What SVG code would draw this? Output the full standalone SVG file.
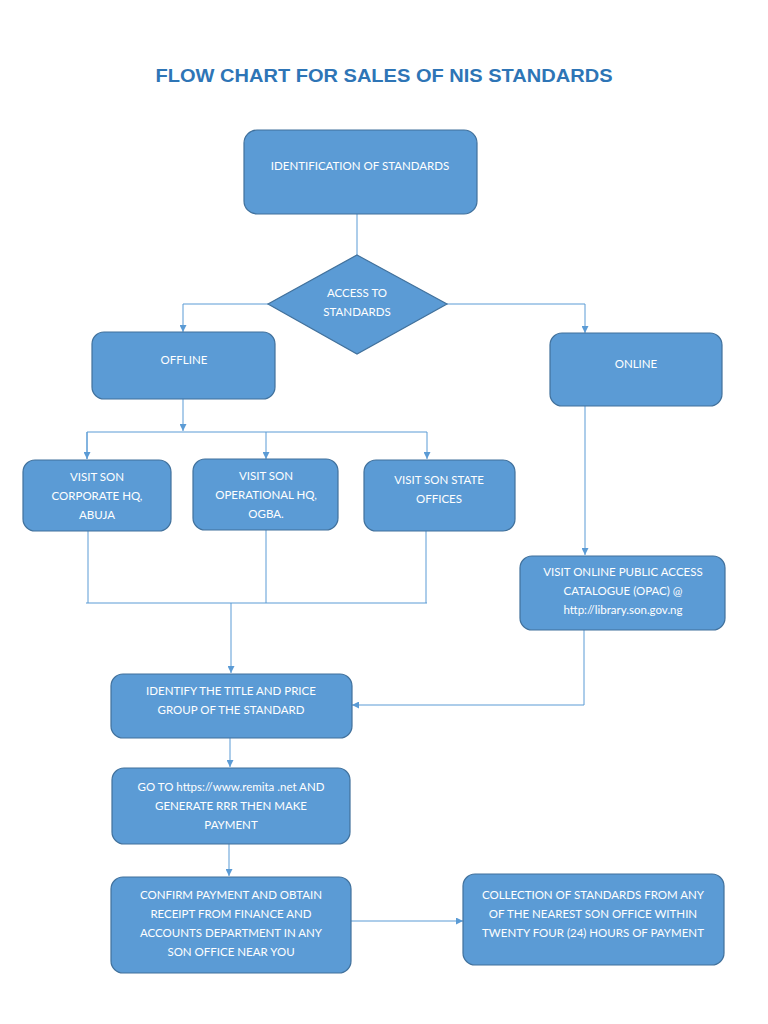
<svg xmlns="http://www.w3.org/2000/svg" width="768" height="1024" viewBox="0 0 768 1024">
<defs>
<marker id="arr" viewBox="0 0 10 10" refX="10" refY="5" markerWidth="7" markerHeight="7" markerUnits="userSpaceOnUse" orient="auto">
<path d="M0,0 L10,5 L0,10 z" fill="#5B9BD5"/>
</marker>
<style>
.box{fill:#5B9BD5;stroke:#41719C;stroke-width:1.2}
.t{font-family:Lato,"Open Sans",sans-serif;font-size:11.5px;fill:#FFFFFF;text-anchor:middle}
.c{fill:none;stroke:#5B9BD5;stroke-width:1}
.title{font-family:"Liberation Sans",Arial,sans-serif;font-weight:bold;font-size:18px;fill:#2E75B6;text-anchor:middle}
</style>
</defs>
<rect width="768" height="1024" fill="#FFFFFF"/>
<text class="title" x="384" y="82" textLength="457" lengthAdjust="spacingAndGlyphs">FLOW CHART FOR SALES OF NIS STANDARDS</text>

<g id="connectors">
<path class="c" d="M357,214 V255"/>
<path class="c" d="M268,304 H183 V332" marker-end="url(#arr)"/>
<path class="c" d="M447,304 H585 V333" marker-end="url(#arr)"/>
<path class="c" d="M183,399 V431" marker-end="url(#arr)"/>
<path class="c" d="M87,459 V432 H427 V459" marker-end="url(#arr)"/>
<path class="c" d="M87,432 V459" marker-end="url(#arr)"/>
<path class="c" d="M266,432 V459" marker-end="url(#arr)"/>
<path class="c" d="M88,531 V603 M266,530 V603 M426,531 V603 M86,603 H427"/>
<path class="c" d="M231,603 V673" marker-end="url(#arr)"/>
<path class="c" d="M585,406 V555" marker-end="url(#arr)"/>
<path class="c" d="M584,630 V705 H352" marker-end="url(#arr)"/>
<path class="c" d="M230,738 V767" marker-end="url(#arr)"/>
<path class="c" d="M229,844 V876" marker-end="url(#arr)"/>
<path class="c" d="M351,921 H463" marker-end="url(#arr)"/>
</g>

<g id="identification">
<rect class="box" x="244" y="130" width="233" height="84" rx="13"/>
<text class="t" x="360" y="170">IDENTIFICATION OF STANDARDS</text>
</g>
<g id="access">
<polygon class="box" points="357,255 447,304 357,354 268,304"/>
<text class="t" x="357" y="297">ACCESS TO</text>
<text class="t" x="357" y="316">STANDARDS</text>
</g>
<g id="offline">
<rect class="box" x="92" y="332" width="183" height="67" rx="12"/>
<text class="t" x="184" y="364">OFFLINE</text>
</g>
<g id="online">
<rect class="box" x="550" y="333" width="172" height="73" rx="12"/>
<text class="t" x="636" y="368">ONLINE</text>
</g>
<g id="corporate">
<rect class="box" x="23" y="460" width="148" height="71" rx="12"/>
<text class="t" x="97" y="481">VISIT SON</text>
<text class="t" x="97" y="500">CORPORATE HQ,</text>
<text class="t" x="97" y="519">ABUJA</text>
</g>
<g id="operational">
<rect class="box" x="193" y="459" width="145" height="71" rx="12"/>
<text class="t" x="266" y="480">VISIT SON</text>
<text class="t" x="266" y="499">OPERATIONAL HQ,</text>
<text class="t" x="266" y="518">OGBA.</text>
</g>
<g id="state">
<rect class="box" x="364" y="460" width="151" height="71" rx="12"/>
<text class="t" x="439" y="484">VISIT SON STATE</text>
<text class="t" x="439" y="503">OFFICES</text>
</g>
<g id="opac">
<rect class="box" x="520" y="556" width="205" height="74" rx="12"/>
<text class="t" x="623" y="576">VISIT ONLINE PUBLIC ACCESS</text>
<text class="t" x="623" y="595">CATALOGUE (OPAC) @</text>
<text class="t" x="623" y="614">http://library.son.gov.ng</text>
</g>
<g id="identify">
<rect class="box" x="111" y="674" width="241" height="64" rx="12"/>
<text class="t" x="231" y="695">IDENTIFY THE TITLE AND PRICE</text>
<text class="t" x="231" y="714">GROUP OF THE STANDARD</text>
</g>
<g id="remita">
<rect class="box" x="112" y="768" width="238" height="76" rx="12"/>
<text class="t" x="231" y="791">GO TO https://www.remita .net AND</text>
<text class="t" x="231" y="810">GENERATE RRR THEN MAKE</text>
<text class="t" x="231" y="829">PAYMENT</text>
</g>
<g id="confirm">
<rect class="box" x="111" y="877" width="240" height="96" rx="12"/>
<text class="t" x="231" y="899">CONFIRM PAYMENT AND OBTAIN</text>
<text class="t" x="231" y="918">RECEIPT FROM FINANCE AND</text>
<text class="t" x="231" y="937">ACCOUNTS DEPARTMENT IN ANY</text>
<text class="t" x="231" y="956">SON OFFICE NEAR YOU</text>
</g>
<g id="collection">
<rect class="box" x="463" y="874" width="261" height="91" rx="12"/>
<text class="t" x="593" y="899">COLLECTION OF STANDARDS FROM ANY</text>
<text class="t" x="593" y="918">OF THE NEAREST SON OFFICE WITHIN</text>
<text class="t" x="593" y="937">TWENTY FOUR (24) HOURS OF PAYMENT</text>
</g>
</svg>
